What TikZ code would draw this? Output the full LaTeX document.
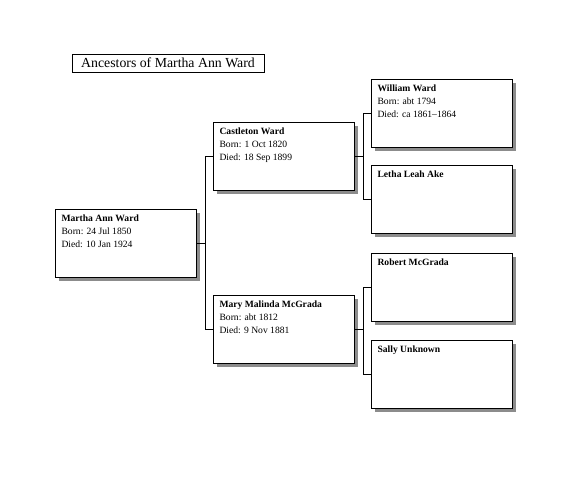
\documentclass[tikz,border=0pt]{standalone}
\usepackage{fontspec}
\setmainfont{Liberation Serif}
\usetikzlibrary{shapes, positioning, shadows}
\newcommand{\person}[2]{\parbox[t][57pt][t]{129pt}{\textbf{#1}\\#2}}

\begin{document}
\begin{tikzpicture}[x=1pt, y=-1pt,
    box/.style={rectangle, draw, line width=1.1pt, fill=white, anchor=north west,
        minimum width=141pt, minimum height=68pt, inner xsep=6pt, inner ysep=5.5pt,
        font=\fontsize{9.6}{12.7}\selectfont,
        drop shadow={shadow xshift=3pt, shadow yshift=-3pt, fill=black!45, opacity=1}},
    titlebox/.style={rectangle, draw, line width=0.8pt, minimum width=192pt, minimum height=18pt,
        inner sep=0pt, font=\fontsize{13.8}{15}\selectfont},
    link/.style={draw, line width=0.8pt}]
    \useasboundingbox (0,0) rectangle (569,482);
    \node [titlebox] (title) at (168,63) {Ancestors of Martha Ann Ward};
    % generation 1
    \node [box] (martha) at (55,209) {\person{Martha Ann Ward}{Born: 24 Jul 1850\\Died: 10 Jan 1924}};
    % generation 2
    \node [box] (castleton) at (213,122) {\person{Castleton Ward}{Born: 1 Oct 1820\\Died: 18 Sep 1899}};
    \node [box] (mary) at (213,295) {\person{Mary Malinda McGrada}{Born: abt 1812\\Died: 9 Nov 1881}};
    % generation 3
    \node [box] (william) at (371,79) {\person{William Ward}{Born: abt 1794\\Died: ca 1861--1864}};
    \node [box] (letha) at (371,165) {\person{Letha Leah Ake}{}};
    \node [box] (robert) at (371,253) {\person{Robert McGrada}{}};
    \node [box] (sally) at (371,340) {\person{Sally Unknown}{}};
    % connectors
    \draw [link] (martha.east) -- ++(8,0) |- (castleton.west);
    \draw [link] (martha.east) -- ++(8,0) |- (mary.west);
    \draw [link] (castleton.east) -- ++(8,0) |- (william.west);
    \draw [link] (castleton.east) -- ++(8,0) |- (letha.west);
    \draw [link] (mary.east) -- ++(8,0) |- (robert.west);
    \draw [link] (mary.east) -- ++(8,0) |- (sally.west);
\end{tikzpicture}
\end{document}
